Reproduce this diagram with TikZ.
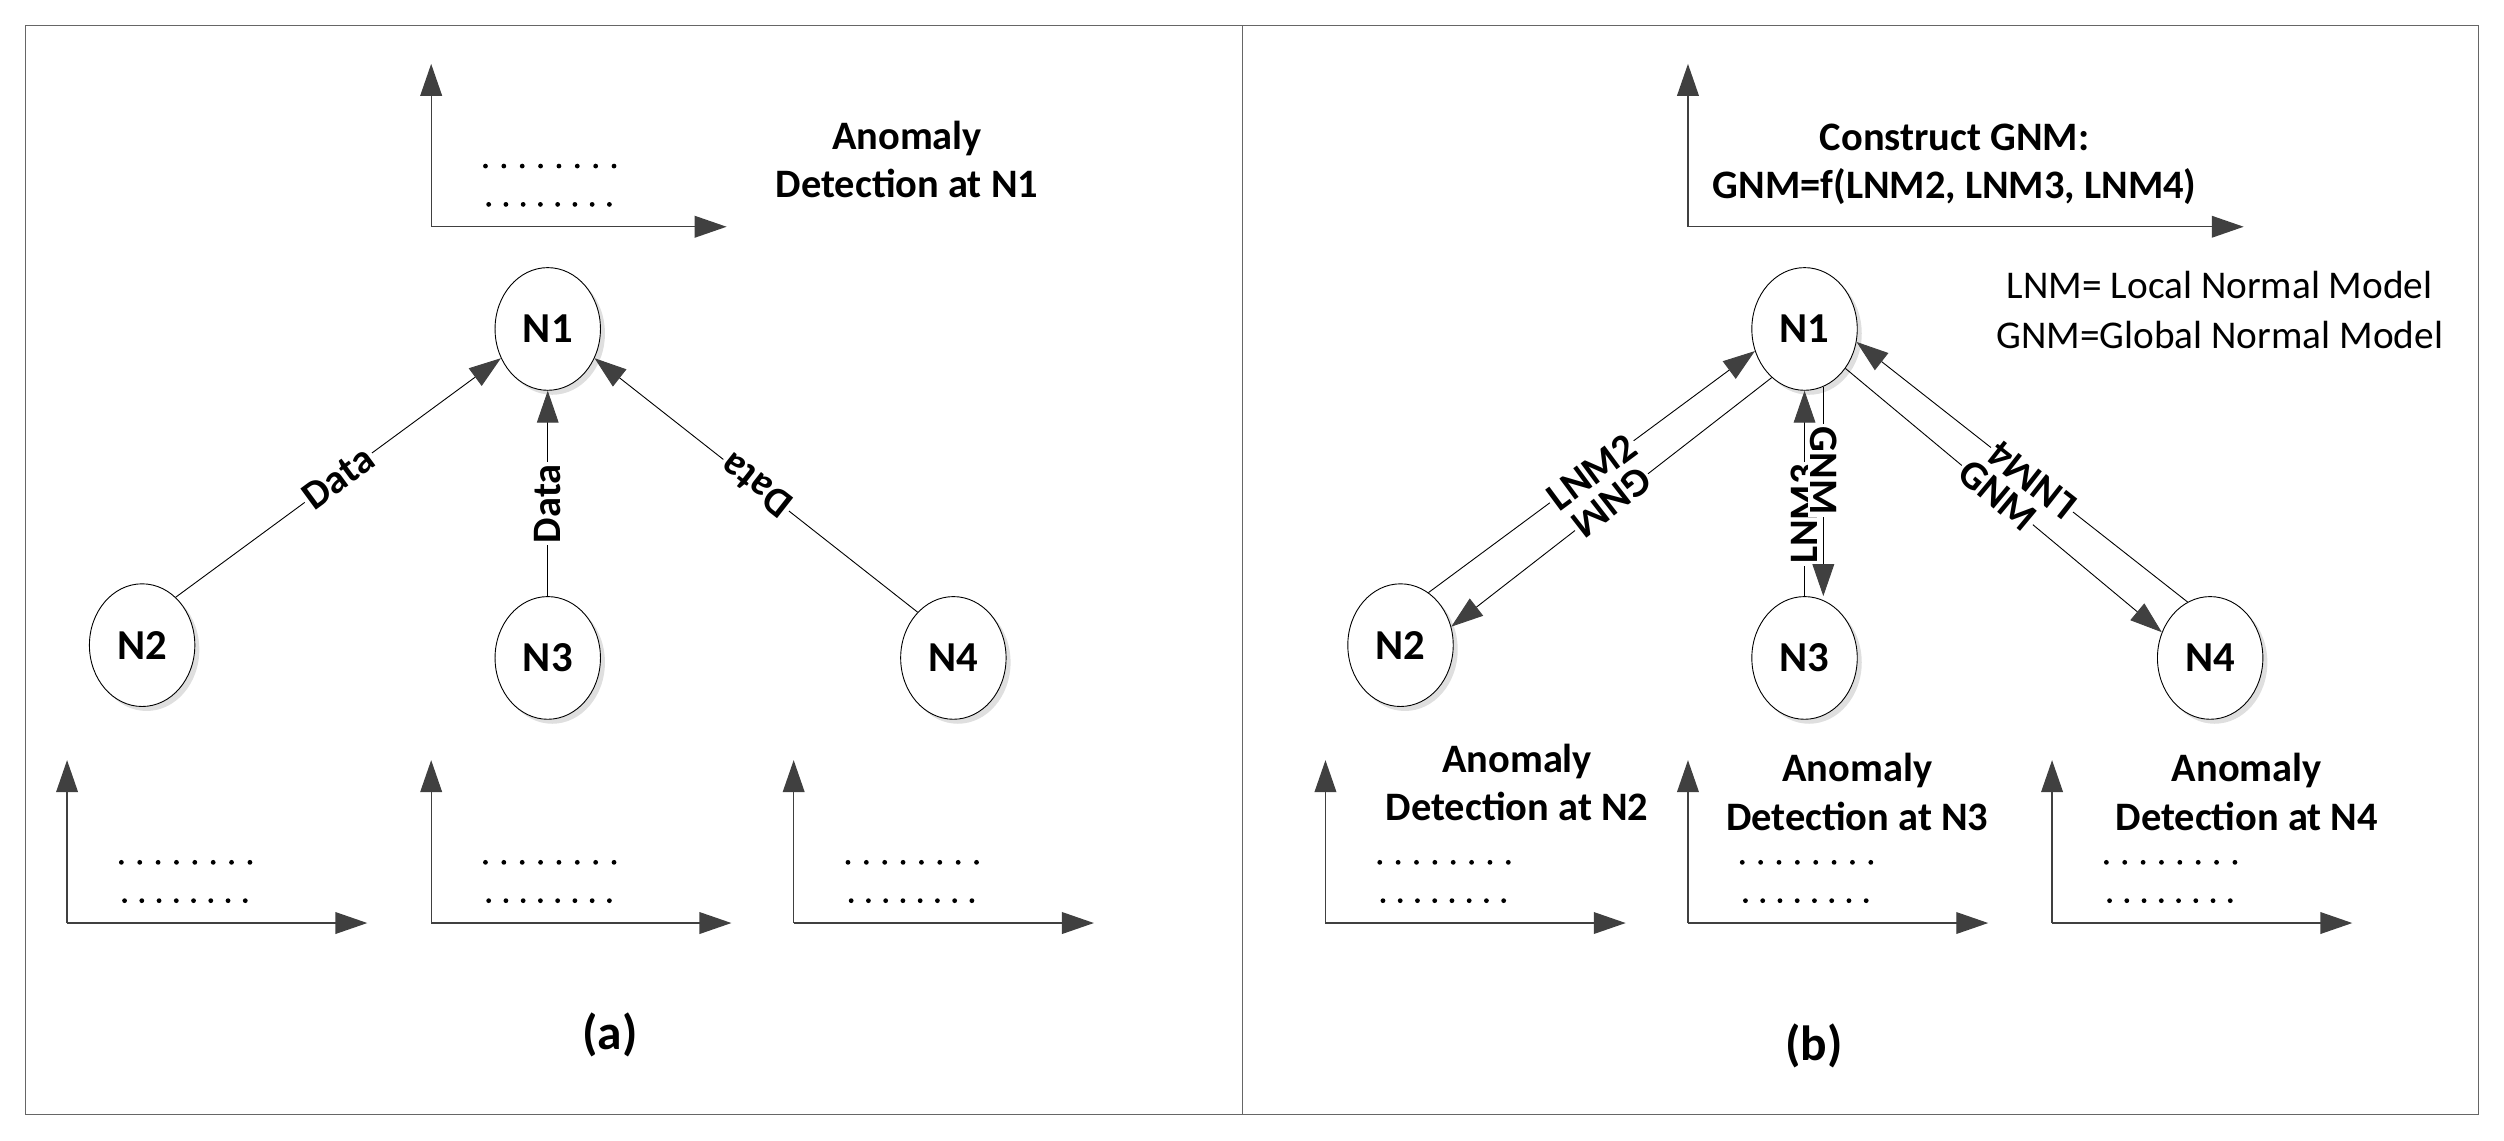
\documentclass[tikz,border=0pt]{standalone}
\usepackage{fontspec}
\setmainfont{Carlito}
\usetikzlibrary{arrows.meta,shapes.geometric,shadows,calc}
\tikzset{
  nd/.style={ellipse,draw,fill=white,minimum width=1.65cm,minimum height=1.92cm,inner sep=0pt,
    font=\fontsize{19}{21}\selectfont\bfseries,drop shadow={opacity=0.25,shadow xshift=2pt,shadow yshift=-2pt}},
  tip/.style={-{Triangle[length=0.5cm,width=0.34cm,color=black!75,fill=black!75]}},
  axis/.style={black!75,line width=0.6pt},
  lbl/.style={sloped,allow upside down,fill=white,inner sep=1pt,font=\fontsize{18}{20}\selectfont\bfseries},
  txt/.style={align=center,font=\fontsize{18}{21.5}\selectfont\bfseries}
}
\newcommand\plotbox[3]{% x, y of origin, length of x axis
  \draw[axis,tip] (#1,#2) -- (#1,#2-102);
  \draw[axis,tip] (#1,#2) -- (#1+#3,#2);
}
\newcommand\plotdots[2]{% x, y of origin
  \foreach \i in {0,...,7} {
    \fill (#1+34+\i*11.5,#2-38) circle (1.5);
    \fill (#1+36+\i*10.8,#2-14) circle (1.5);
  }
}
\begin{document}
\begin{tikzpicture}[x=0.025cm,y=-0.025cm]
  \useasboundingbox (0,0) rectangle (1568,714);
  \draw[black!60] (16,16) rectangle (1552,698);
  \draw[black!60] (778,16) -- (778,698);
  % panel (a)
  \node[nd] (a1) at (343,206) {N1};
  \node[nd] (a2) at (89,404) {N2};
  \node[nd] (a3) at (343,412) {N3};
  \node[nd] (a4) at (597,412) {N4};
  \draw[tip] (a2.55) -- (a1.212) node[lbl,pos=0.5] {Data};
  \draw[tip] (a3.north) -- (a1.south) node[lbl,pos=0.45] {Data};
  \draw[tip] (a4.128) -- (a1.-32) node[lbl,pos=0.5] {Data};
  \plotbox{270}{142}{185}
  \plotdots{270}{142}
  \node[txt] at (568,100) {Anomaly\\Detection at N1};
  \foreach \x in {42,270,497} {\plotbox{\x}{578}{188}\plotdots{\x}{578}}
  \node[font=\fontsize{22}{24}\selectfont\bfseries] (capa) at (382,648) {(a)};
  % panel (b)
  \node[nd] (b1) at (1130,206) {N1};
  \node[nd] (b2) at (877,404) {N2};
  \node[nd] (b3) at (1130,412) {N3};
  \node[nd] (b4) at (1384,412) {N4};
  \draw[tip] (b2.62) -- (b1.204) node[lbl,pos=0.5] {LNM2};
  \draw[tip] (b1.236) -- (b2.20) node[lbl,pos=0.5] {GNM};
  \draw[tip] (b3.north) -- (b1.south) node[lbl,pos=0.4] {LNM3};
  \draw[tip] (b1.-72) -- (b1.-72 |- b3.north) node[lbl,pos=0.4] {GNM};
  \draw[tip] (b4.112) -- (b1.-14) node[lbl,pos=0.47] {LNM4};
  \draw[tip] (b1.-44) -- (b4.152) node[lbl,pos=0.48] {GNM};
  \plotbox{1057}{142}{348}
  \node[txt] at (1224,103) {Construct GNM:\\GNM=f(LNM2, LNM3, LNM4)};
  \node[align=center,font=\fontsize{17.5}{22}\selectfont] at (1390,194) {LNM= Local Normal Model\\GNM=Global Normal Model};
  \foreach \x in {830,1057,1285} {\plotbox{\x}{578}{188}\plotdots{\x}{578}}
  \node[txt] at (950,490) {Anomaly\\Detection at N2};
  \node[txt] at (1163,496) {Anomaly\\Detection at N3};
  \node[txt] at (1407,496) {Anomaly\\Detection at N4};
  \node[font=\fontsize{22}{24}\selectfont\bfseries] (capb) at (1136,655) {(b)};
\end{tikzpicture}
\end{document}
